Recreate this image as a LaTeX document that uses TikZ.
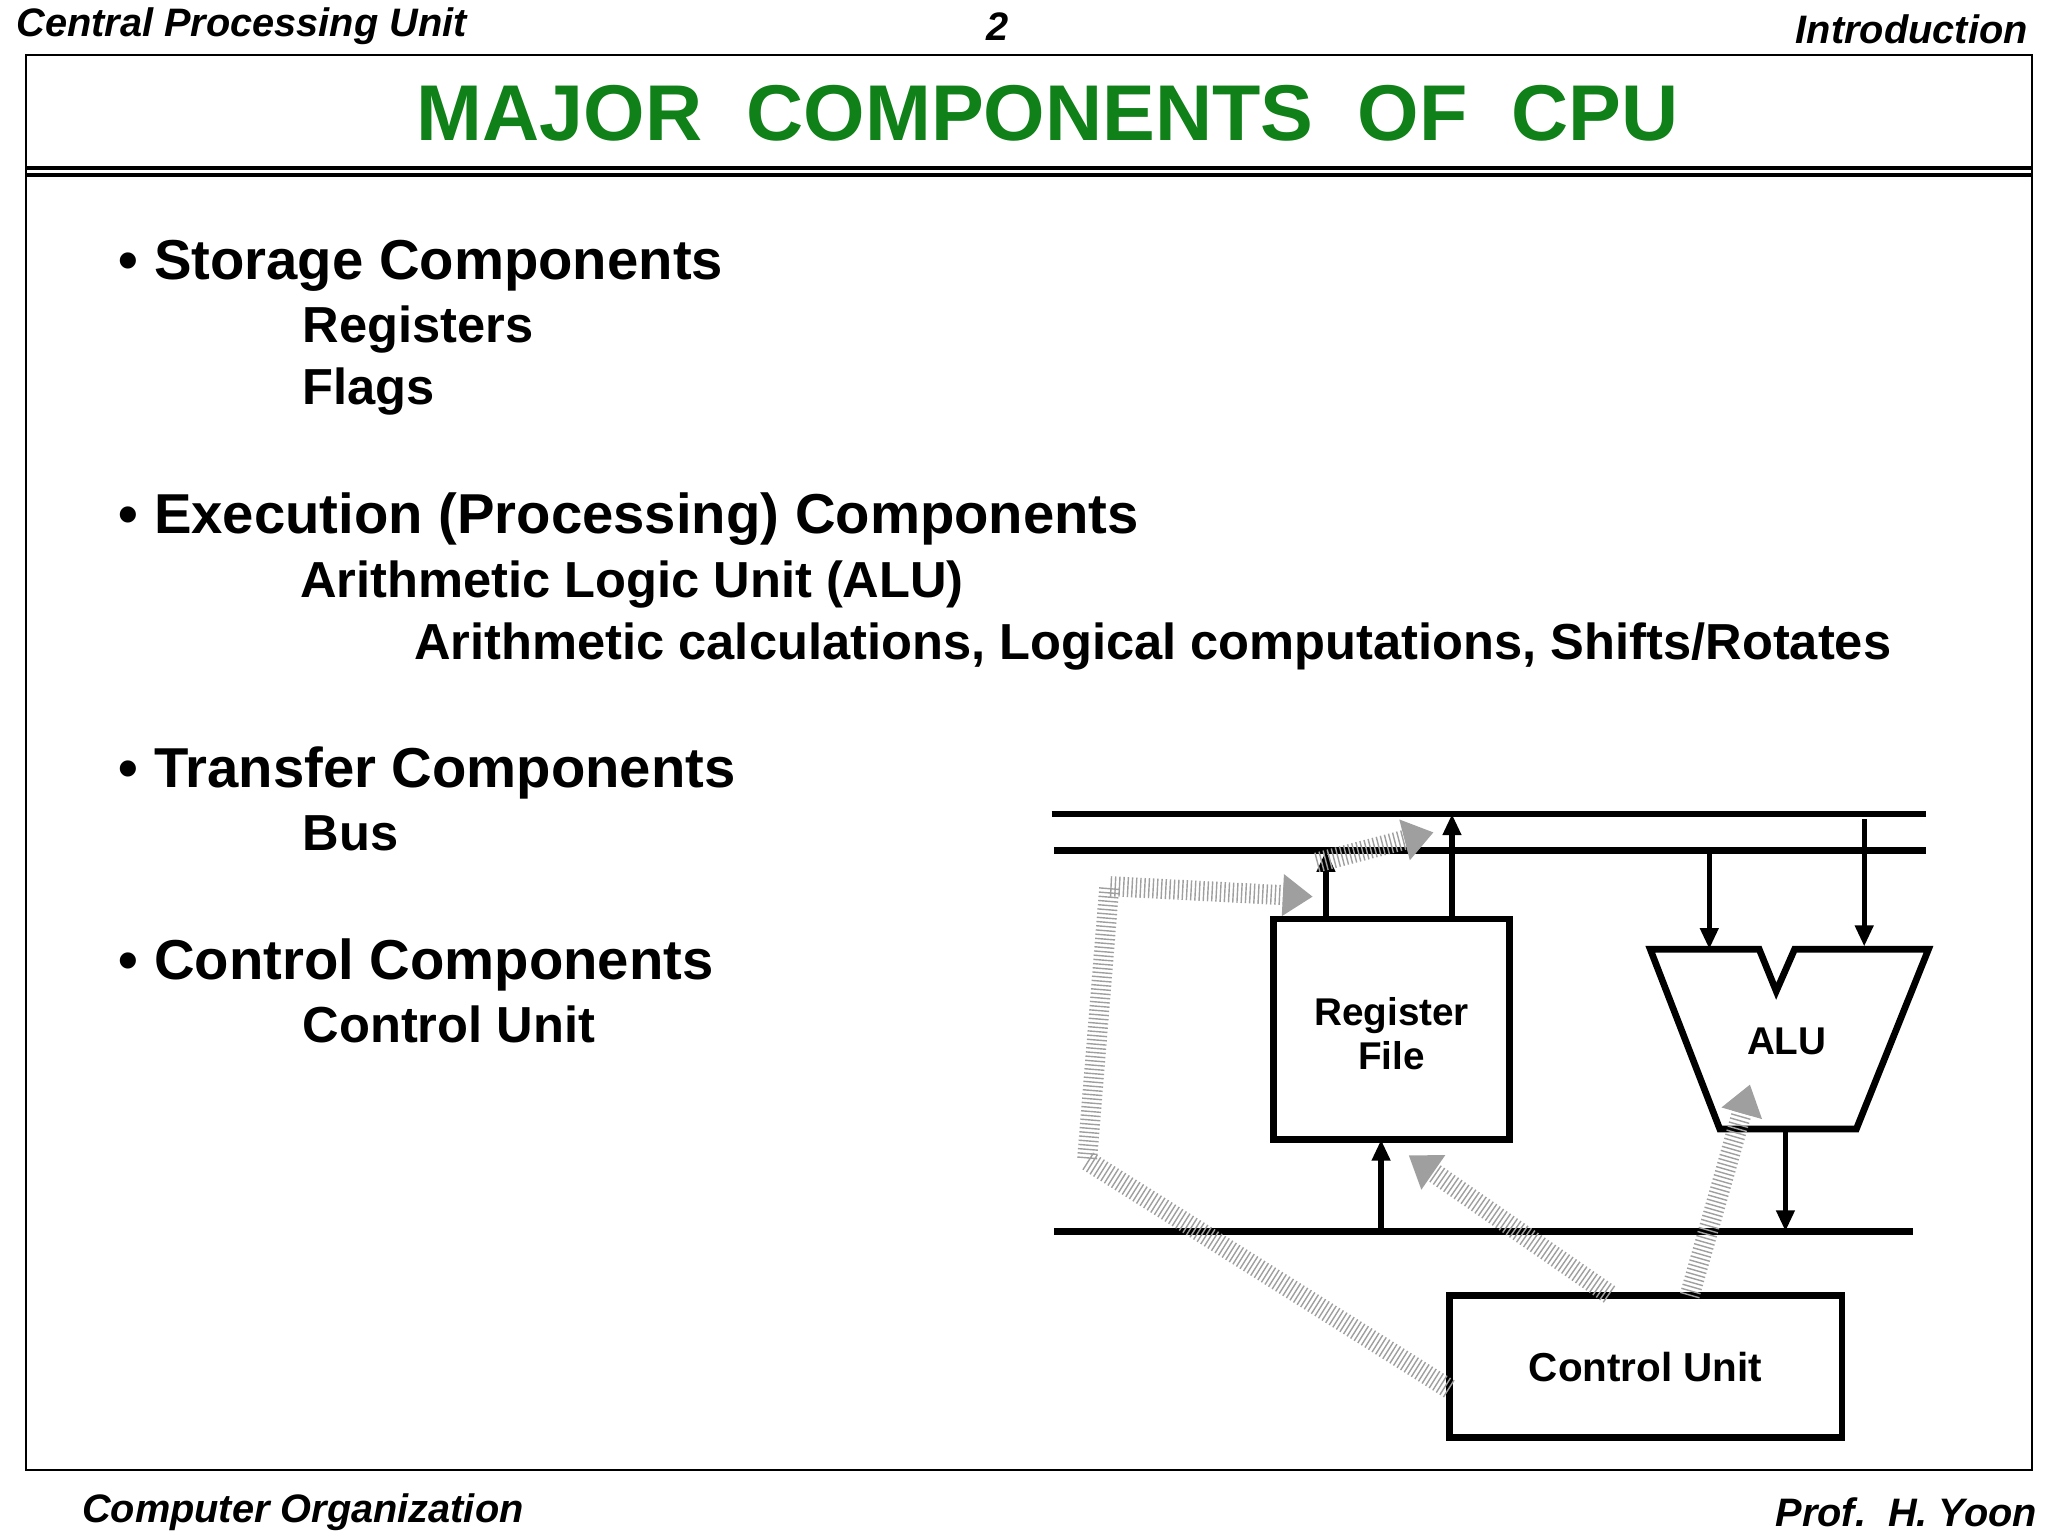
\documentclass[tikz,border=0pt]{standalone}
\usepackage{fontspec}
\setmainfont{Liberation Sans}
\usetikzlibrary{arrows.meta}
\definecolor{tgreen}{RGB}{16,128,24}
\begin{document}
\begin{tikzpicture}[x=0.013128cm,y=-0.013128cm,
  hdr/.style={font=\fontsize{11.3}{13}\selectfont\bfseries\itshape,inner sep=0},
  big/.style={font=\fontsize{16}{18}\selectfont\bfseries,anchor=base west,inner sep=0},
  sub/.style={font=\fontsize{14.4}{16}\selectfont\bfseries,anchor=base west,inner sep=0},
  lab/.style={font=\fontsize{11}{12.5}\selectfont\bfseries,align=center,inner sep=0},
  bus/.style={line width=1.9pt},
  box/.style={line width=1.9pt},
  sig/.style={line width=1.5pt,-{Triangle[length=6pt,width=5pt]}},
  hat/.style={draw=gray!75,line width=2mm,dash pattern=on 0.4pt off 0.8pt,-{Triangle[length=3mm,width=4mm]}}]
\useasboundingbox (0,0) rectangle (1560,1170);
% header / footer
\node[hdr,anchor=west] (h1) at (12,20) {Central Processing Unit};
\node[hdr] (h2) at (760,20) {2};
\node[hdr,anchor=east] (h3) at (1545,22) {Introduction};
\node[hdr,anchor=west] (f1) at (62,1152) {Computer Organization};
\node[hdr,anchor=east] (f2) at (1552,1152) {Prof.\ \ H. Yoon};
% frames
\draw[line width=0.6pt] (20,42) rectangle (1548,1120);
\draw[line width=1.2pt] (20,128) -- (1548,128);
\draw[line width=1.2pt] (20,133.5) -- (1548,133.5);
\node[font=\fontsize{22.5}{26}\selectfont\bfseries,text=tgreen,inner sep=0] (title) at (798,86) {MAJOR\ \ COMPONENTS\ \ OF\ \ CPU};
% bullets
\node[big] (b1) at (90,213) {• Storage Components};
\node[sub] (s1) at (230,261) {Registers};
\node[sub] (s2) at (230,308) {Flags};
\node[big] (b2) at (90,406) {• Execution (Processing) Components};
\node[sub] (s3) at (228,455) {Arithmetic Logic Unit (ALU)};
\node[sub] (s4) at (315,502) {Arithmetic calculations, Logical computations, Shifts/Rotates};
\node[big] (b3) at (90,600) {• Transfer Components};
\node[sub] (s5) at (230,648) {Bus};
\node[big] (b4) at (90,746) {• Control Components};
\node[sub] (s6) at (230,794) {Control Unit};
% buses
\coordinate (t1a) at (801,620); \coordinate (t1b) at (1467,620);
\coordinate (t2a) at (803,648); \coordinate (t2b) at (1467,648);
\coordinate (bba) at (803,938); \coordinate (bbb) at (1457,938);
\draw[bus] (t1a) -- (t1b);
\draw[bus] (t2a) -- (t2b);
\draw[bus] (bba) -- (bbb);
% register file
\draw[box] (970,700) rectangle (1150,868);
\node[lab] (rf) at (1060,787) {Register\\File};
\coordinate (r1) at (1010,700); \coordinate (r1t) at (1010,648);
\coordinate (r2) at (1106,700); \coordinate (r2t) at (1106,620);
\coordinate (r3) at (1052,938); \coordinate (r3t) at (1052,868);
\draw[sig] (r1) -- (r1t);
\draw[sig] (r2) -- (r2t);
\draw[sig] (r3) -- (r3t);
% ALU
\draw[box,line join=miter] (1257,723) -- (1340,723) -- (1353,755) -- (1367,723) -- (1469,723) -- (1414,860) -- (1310,860) -- cycle;
\node[lab] (alu) at (1361,793) {ALU};
\coordinate (a1) at (1302,648); \coordinate (a1t) at (1302,723);
\coordinate (a2) at (1420,624); \coordinate (a2t) at (1420,721);
\coordinate (a3) at (1360,860); \coordinate (a3t) at (1360,938);
\draw[sig] (a1) -- (a1t);
\draw[sig] (a2) -- (a2t);
\draw[sig] (a3) -- (a3t);
% control unit
\node[draw,box,minimum width=299*0.013128cm,minimum height=108*0.013128cm,inner sep=0,font=\fontsize{11.5}{12}\selectfont\bfseries] (cu) at (1253.5,1041) {Control Unit};
% hatched control signals
\draw[hat] (1104,1058) -- (828,884) -- (845,675) -- (1000,683);
\draw[hat] (1003,657) -- (1092,634);
\draw[hat] (1226,986) -- (1073,880);
\draw[hat] (1287,987) -- (1333,826);
\end{tikzpicture}
\end{document}
